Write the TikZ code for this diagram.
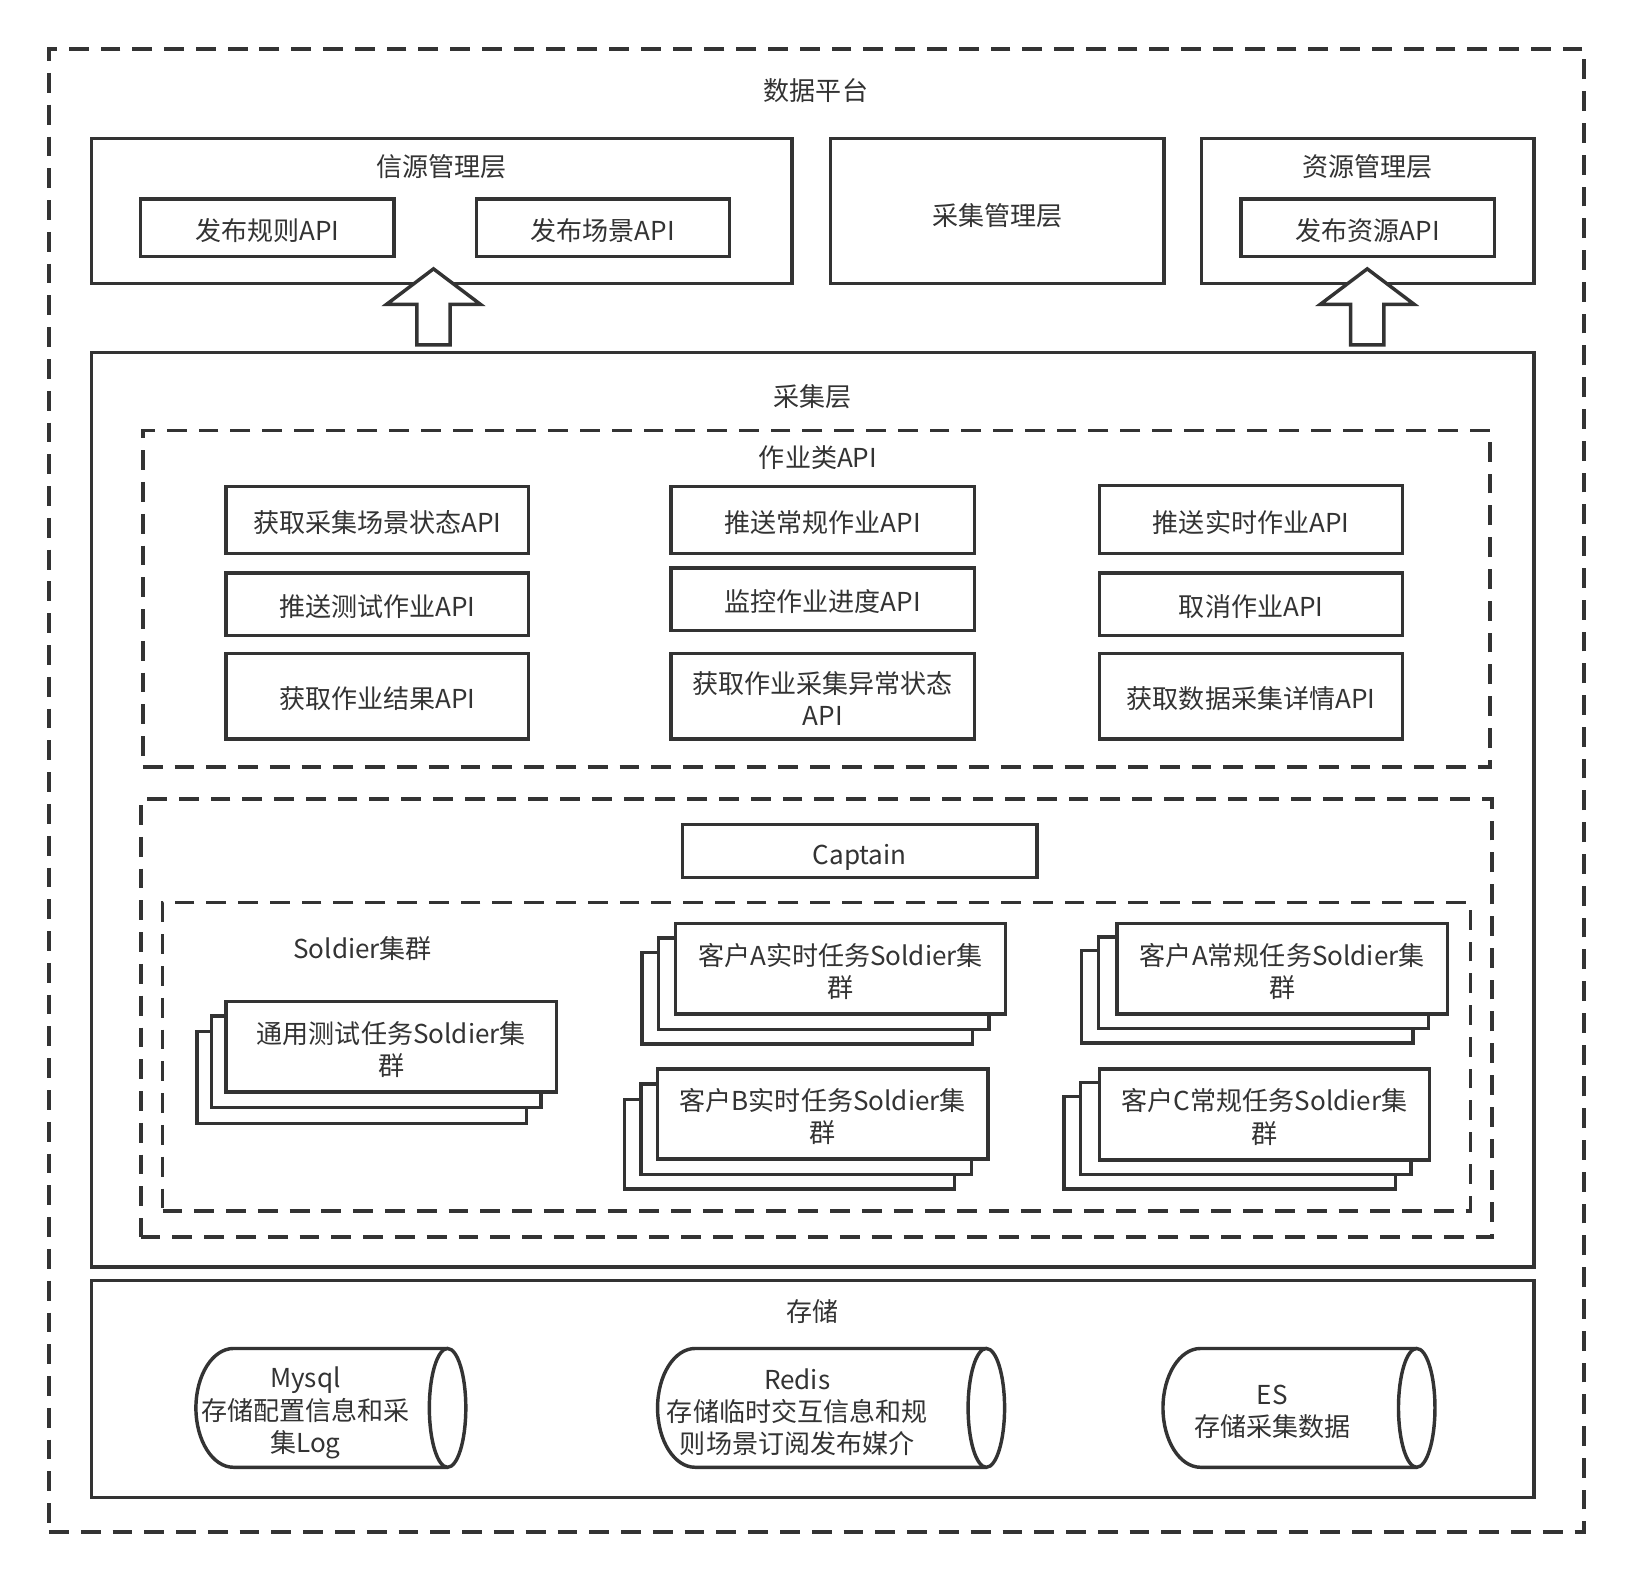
\documentclass[tikz,border=0pt]{standalone}
\usepackage{fontspec}
\setmainfont{Noto Sans CJK SC}
\usetikzlibrary{fit}
\definecolor{ln}{RGB}{51,51,51}
\begin{document}
\begin{tikzpicture}[x=1pt,y=-1pt,
  every node/.style={font=\fontsize{25pt}{31pt}\selectfont, text=ln},
  box/.style={draw=ln, line width=3.3pt, fill=white, inner sep=0pt},
  dbox/.style={draw=ln, line width=3.5pt, dash pattern=on 19pt off 11.5pt, inner sep=0pt},
  lbl/.style={inner sep=0pt, align=center},
  blbl/.style={lbl, yshift=-2.5pt},
  cyl/.style={draw=ln, line width=3.3pt, fill=white},
  bigarrow/.style={draw=ln, line width=3.3pt, fill=white, line join=miter},
]
\useasboundingbox (0,0) rectangle (1568,1518);
\fill[white] (0,0) rectangle (1568,1518);

% outer platform
\node[dbox, fit={(47,47) (1520,1470)}] (platform) {};
\node[lbl] (tplatform) at (783,87) {数据平台};

% top layers
\node[box, fit={(88,133) (760,272)}] (xinyuan) {};
\node[lbl] (txinyuan) at (424,160) {信源管理层};
\node[box, fit={(135,191) (378,246)}] (rule) {};
\node[blbl] (trule) at (rule.center) {发布规则API};
\node[box, fit={(457,191) (700,246)}] (scene) {};
\node[blbl] (tscene) at (scene.center) {发布场景API};

\node[box, fit={(797,133) (1117,272)}] (caijimgr) {};
\node[lbl] (tcaijimgr) at (957,207) {采集管理层};

\node[box, fit={(1153,133) (1472,272)}] (ziyuan) {};
\node[lbl] (tziyuan) at (1312,160) {资源管理层};
\node[box, fit={(1191,191) (1434,246)}] (res) {};
\node[blbl] (tres) at (res.center) {发布资源API};

% collection layer
\node[box, fit={(88,338) (1472,1216)}] (caiji) {};
\node[lbl] (tcaiji) at (780,381) {采集层};

\node[dbox, fit={(137,413) (1430,736)}] (jobapi) {};
\node[lbl] (tjobapi) at (785,439) {作业类API};

\node[box, fit={(217,467) (507,531)}] (a11) {};
\node[blbl] at (a11.center) {获取采集场景状态API};
\node[box, fit={(217,550) (507,610)}] (a12) {};
\node[blbl] at (a12.center) {推送测试作业API};
\node[box, fit={(217,627) (507,709)}] (a13) {};
\node[blbl] at (a13.center) {获取作业结果API};

\node[box, fit={(644,467) (935,531)}] (a21) {};
\node[blbl] at (a21.center) {推送常规作业API};
\node[box, fit={(644,545) (935,605)}] (a22) {};
\node[blbl] at (a22.center) {监控作业进度API};
\node[box, fit={(644,627) (935,709)}] (a23) {};
\node[blbl] at (a23.center) {获取作业采集异常状态\\API};

\node[box, fit={(1055,466) (1346,531)}] (a31) {};
\node[blbl] at (a31.center) {推送实时作业API};
\node[box, fit={(1055,550) (1346,610)}] (a32) {};
\node[blbl] at (a32.center) {取消作业API};
\node[box, fit={(1055,627) (1346,709)}] (a33) {};
\node[blbl] at (a33.center) {获取数据采集详情API};

\node[dbox, fit={(135,767) (1432,1187)}] (captarea) {};
\node[box, fit={(655,791) (995,842)}] (captain) {};
\node[lbl, yshift=-6pt] (tcaptain) at (captain.center) {Captain};

\node[dbox, fit={(156,866) (1411,1162)}] (soldiers) {};
\node[lbl] (tsoldiers) at (348,910) {Soldier集群};

% stacks
\node[box, fit={(189,990) (505,1078)}] (s1c) {};
\node[box, fit={(203,975) (519,1063)}] (s1b) {};
\node[box, fit={(217,961) (534,1048)}] (s1a) {};
\node[blbl] (ts1) at (s1a.center) {通用测试任务Soldier集\\群};

\node[box, fit={(616,914) (933,1002)}] (s2c) {};
\node[box, fit={(632,900) (949,988)}] (s2b) {};
\node[box, fit={(648,886) (965,973)}] (s2a) {};
\node[blbl] (ts2) at (s2a.center) {客户A实时任务Soldier集\\群};

\node[box, fit={(599,1055) (916,1141)}] (s3c) {};
\node[box, fit={(615,1040) (932,1127)}] (s3b) {};
\node[box, fit={(631,1026) (948,1112)}] (s3a) {};
\node[blbl] (ts3) at (s3a.center) {客户B实时任务Soldier集\\群};

\node[box, fit={(1038,912) (1356,1001)}] (s4c) {};
\node[box, fit={(1054,899) (1371,987)}] (s4b) {};
\node[box, fit={(1072,886) (1389,973)}] (s4a) {};
\node[blbl] (ts4) at (s4a.center) {客户A常规任务Soldier集\\群};

\node[box, fit={(1021,1052) (1339,1141)}] (s5c) {};
\node[box, fit={(1037,1039) (1354,1127)}] (s5b) {};
\node[box, fit={(1055,1026) (1372,1113)}] (s5a) {};
\node[blbl] (ts5) at (s5a.center) {客户C常规任务Soldier集\\群};

% storage
\node[box, fit={(88,1229) (1472,1437)}] (storage) {};
\node[lbl] (tstorage) at (780,1259) {存储};

% cylinders
\draw[cyl] (429.5,1294) -- (224,1294) arc[start angle=90, end angle=270, x radius=36pt, y radius=57pt] -- (429.5,1408);
\draw[cyl] (429.5,1351) ellipse [x radius=17.5pt, y radius=57pt];
\node[lbl] (mysql) at (293,1356) {Mysql\\存储配置信息和采\\集Log};

\draw[cyl] (946.5,1294) -- (667,1294) arc[start angle=90, end angle=270, x radius=36pt, y radius=57pt] -- (946.5,1408);
\draw[cyl] (946.5,1351) ellipse [x radius=17.5pt, y radius=57pt];
\node[lbl] (redis) at (765,1355) {Redis\\存储临时交互信息和规\\则场景订阅发布媒介};

\draw[cyl] (1359.5,1294) -- (1152,1294) arc[start angle=90, end angle=270, x radius=36pt, y radius=57pt] -- (1359.5,1408);
\draw[cyl] (1359.5,1351) ellipse [x radius=17.5pt, y radius=57pt];
\node[lbl] (es) at (1221,1355) {ES\\存储采集数据};

% block arrows
\draw[bigarrow] (400,331) -- (400,292) -- (371,292) -- (416,258) -- (461,292) -- (432,292) -- (432,331) -- cycle;
\draw[bigarrow] (1296,331) -- (1296,292) -- (1267,292) -- (1312,258) -- (1357,292) -- (1328,292) -- (1328,331) -- cycle;
\end{tikzpicture}
\end{document}
